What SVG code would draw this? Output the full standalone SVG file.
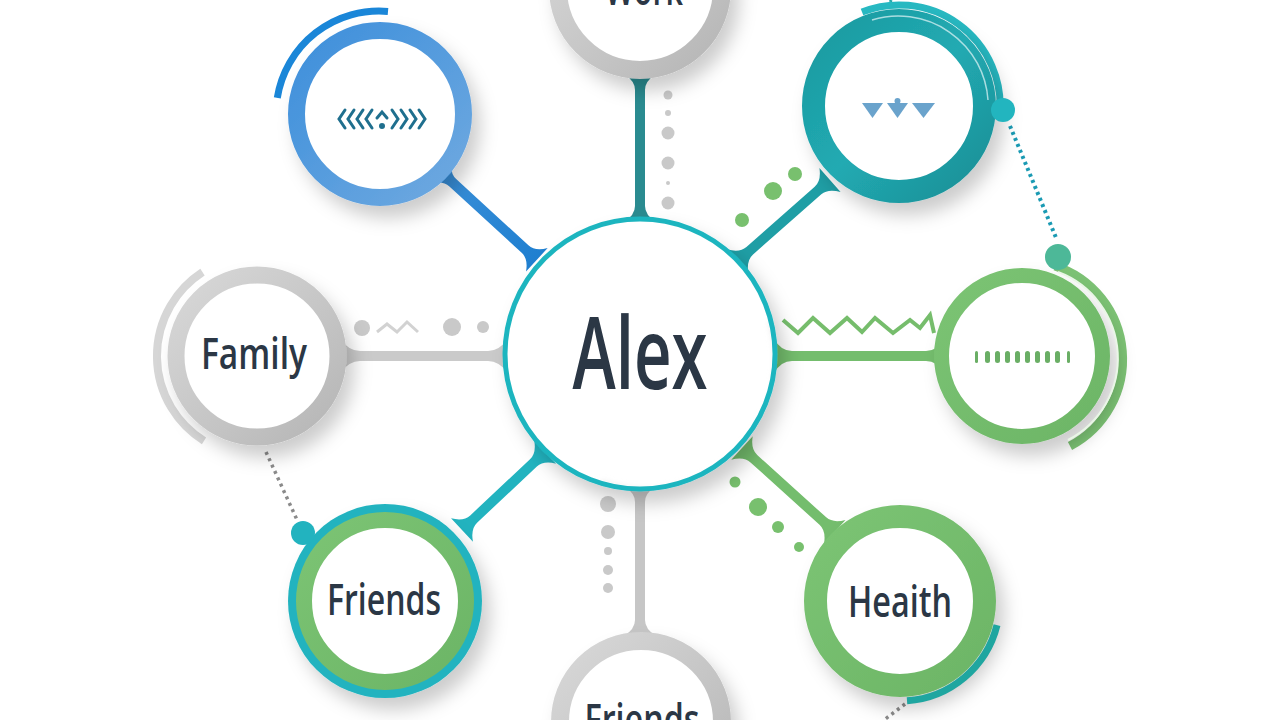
<svg xmlns="http://www.w3.org/2000/svg" width="1280" height="720" viewBox="0 0 1280 720">
<defs>
<filter id="sh" x="-40%" y="-40%" width="180%" height="180%">
<feDropShadow dx="8" dy="12" stdDeviation="9" flood-color="#000" flood-opacity="0.2"/>
</filter>
<filter id="blur" x="-20%" y="-20%" width="140%" height="140%"><feGaussianBlur stdDeviation="3"/></filter>
<clipPath id="cClip"><circle cx="640" cy="354" r="132"/></clipPath>
<linearGradient id="gBlue" x1="0" y1="0" x2="1" y2="1"><stop offset="0" stop-color="#3d8fdb"/><stop offset="1" stop-color="#6fa9e0"/></linearGradient>
<linearGradient id="gTeal" x1="0" y1="0" x2="1" y2="1"><stop offset="0" stop-color="#1c9aa0"/><stop offset="0.5" stop-color="#21aab2"/><stop offset="1" stop-color="#1c8f96"/></linearGradient>
<linearGradient id="gGray" x1="0" y1="0" x2="1" y2="1"><stop offset="0" stop-color="#d8d8d8"/><stop offset="0.6" stop-color="#c4c4c4"/><stop offset="1" stop-color="#b5b5b5"/></linearGradient>
<linearGradient id="gGreen" x1="0" y1="0" x2="1" y2="1"><stop offset="0" stop-color="#7cc474"/><stop offset="1" stop-color="#6cb566"/></linearGradient>
<linearGradient id="gBlueStem" x1="0" y1="0" x2="1" y2="0"><stop offset="0" stop-color="#3a8fd8"/><stop offset="1" stop-color="#1f7fd0"/></linearGradient>
</defs>
<style>
.lbl{font-family:"Open Sans","Liberation Sans",sans-serif;font-weight:600;fill:#2b3745;text-anchor:middle}
</style>
<rect width="1280" height="720" fill="#fff"/>

<g id="connectors">
<path transform="translate(640,74) rotate(90)" fill="#2a8b90" d="M0,-16 Q7,-5 16,-5 L132,-5 Q141,-5 148,-16 L148,16 Q141,5 132,5 L16,5 Q7,5 0,16 Z"/>
<path transform="translate(441,172) rotate(42.5)" fill="url(#gBlueStem)" d="M0,-16 Q7,-5 16,-5 L114,-5 Q123,-5 130,-16 L130,16 Q123,5 114,5 L16,5 Q7,5 0,16 Z"/>
<path transform="translate(830,180) rotate(138.6)" fill="#1f9ea5" d="M0,-16 Q7,-5 16,-5 L107,-5 Q116,-5 123,-16 L123,16 Q116,5 107,5 L16,5 Q7,5 0,16 Z"/>
<path transform="translate(774,356)" fill="#74bd6d" d="M0,-17 Q7,-5 18,-5 L152,-5 Q163,-5 172,-18 L172,18 Q163,5 152,5 L18,5 Q7,5 0,17 Z"/>
<path transform="translate(340,356)" fill="#cacaca" d="M0,-17 Q9,-5 20,-5 L148,-5 Q159,-5 168,-17 L168,17 Q159,5 148,5 L20,5 Q9,5 0,17 Z"/>
<path transform="translate(462,530) rotate(-43.2)" fill="#22b3bf" d="M0,-16 Q7,-5 16,-5 L98,-5 Q107,-5 114,-16 L114,16 Q107,5 98,5 L16,5 Q7,5 0,16 Z"/>
<path transform="translate(742,448) rotate(42.1)" fill="#74bd6d" d="M0,-16 Q7,-5 16,-5 L109,-5 Q118,-5 125,-16 L125,16 Q118,5 109,5 L16,5 Q7,5 0,16 Z"/>
<path transform="translate(640,486) rotate(90)" fill="#c6c6c6" d="M0,-16 Q7,-5 16,-5 L134,-5 Q143,-5 150,-16 L150,16 Q143,5 134,5 L16,5 Q7,5 0,16 Z"/>

<g fill="#c9c9c9">
<circle cx="668" cy="95" r="4.5"/><circle cx="668" cy="113" r="3"/><circle cx="668" cy="133" r="6.5"/><circle cx="668" cy="163" r="6.5"/><circle cx="668" cy="183" r="2"/><circle cx="668" cy="203" r="6.5"/>
<circle cx="608" cy="504" r="8"/><circle cx="608" cy="532" r="7"/><circle cx="608" cy="551" r="4"/><circle cx="608" cy="570" r="5"/><circle cx="608" cy="588" r="5"/>
<circle cx="362" cy="328" r="8"/><circle cx="452" cy="327" r="9"/><circle cx="483" cy="327" r="6"/>
</g>
<polyline points="377,332 387,324 397,332 407,322 418,332" fill="none" stroke="#d2d2d2" stroke-width="3"/>
<g fill="#78c06e">
<circle cx="742" cy="220" r="7"/><circle cx="773" cy="191" r="9"/><circle cx="795" cy="174" r="7"/>
<circle cx="735" cy="482" r="5.5"/><circle cx="758" cy="507" r="9"/><circle cx="778" cy="527" r="6"/><circle cx="799" cy="547" r="5"/>
</g>
<polyline points="783,320 798,333 813,318 830,333 847,318 862,332 875,318 893,333 910,320 920,328 930,315 934,333" fill="none" stroke="#76bd6c" stroke-width="4"/>
<line x1="1010" y1="126" x2="1057" y2="240" stroke="#1a9ab3" stroke-width="4" stroke-dasharray="3 3.5"/>
<line x1="266" y1="452" x2="298" y2="522" stroke="#8a8a8a" stroke-width="3.5" stroke-dasharray="3 4"/>
<line x1="905" y1="704" x2="884" y2="720" stroke="#8a8a8a" stroke-width="3.5" stroke-dasharray="3 4"/>
<line x1="891" y1="0" x2="889" y2="7" stroke="#1fa6a8" stroke-width="3" stroke-dasharray="2 2"/>
</g>

<g id="node-work">
<circle cx="640" cy="-12" r="82" fill="#fff" stroke="url(#gGray)" stroke-width="18" filter="url(#sh)"/>
<text class="lbl" x="644" y="5" font-size="44" textLength="78" lengthAdjust="spacingAndGlyphs">Work</text>
</g>

<g id="node-blue">
<path d="M277.3,97.9 A103,103 0 0 1 388,11.4" fill="none" stroke="#1a86d8" stroke-width="7"/>
<circle cx="380" cy="114" r="83.5" fill="#fff" stroke="url(#gBlue)" stroke-width="17" filter="url(#sh)"/>
<g fill="none" stroke="#1f6f8e" stroke-width="3" stroke-linecap="round">
<polyline points="345,110 339,119 345,128"/><polyline points="354,110 348,119 354,128"/><polyline points="363,110 357,119 363,128"/><polyline points="372,110 366,119 372,128"/>
<polyline points="377,118 382,112 387,118"/><circle cx="382" cy="126" r="1.5" fill="#1f6f8e"/>
<polyline points="392,110 398,119 392,128"/><polyline points="401,110 407,119 401,128"/><polyline points="410,110 416,119 410,128"/><polyline points="419,110 425,119 419,128"/>
</g>
</g>

<g id="node-teal">
<path d="M862,12 A101,101 0 0 1 1000,112" fill="none" stroke="#27b9c2" stroke-width="7"/>
<circle cx="899" cy="106" r="85.5" fill="#fff" stroke="url(#gTeal)" stroke-width="23" filter="url(#sh)"/>
<path d="M872,20 A90,90 0 0 1 988,100" fill="none" stroke="#e6f7f8" stroke-width="1.5" opacity="0.7"/>
<circle cx="1003" cy="110" r="12" fill="#22b5bf"/>
<g fill="#6aa3cc">
<polygon points="862,103 883,103 872.5,118"/><polygon points="887,103 908,103 897.5,118"/><polygon points="912,103 935,103 923.5,118"/>
<circle cx="897.5" cy="101" r="3"/>
</g>
</g>

<g id="node-right">
<path d="M1055,266 A98,98 0 0 1 1070,446" fill="none" stroke="#7cc274" stroke-width="9"/>
<circle cx="1022" cy="356" r="80.5" fill="#fff" stroke="url(#gGreen)" stroke-width="15" filter="url(#sh)"/>
<path d="M1058,272 A92,92 0 0 1 1068,440" fill="none" stroke="#e9f6e6" stroke-width="2"/>
<circle cx="1058" cy="257" r="13" fill="#4db898"/>
<g fill="#6aae65">
<rect x="975" y="351" width="3" height="12" rx="1.5"/>
<rect x="985" y="351" width="5" height="12" rx="2.5"/><rect x="995" y="351" width="5" height="12" rx="2.5"/><rect x="1005" y="351" width="5" height="12" rx="2.5"/><rect x="1015" y="351" width="5" height="12" rx="2.5"/><rect x="1025" y="351" width="5" height="12" rx="2.5"/><rect x="1035" y="351" width="5" height="12" rx="2.5"/><rect x="1045" y="351" width="5" height="12" rx="2.5"/><rect x="1055" y="351" width="5" height="12" rx="2.5"/>
<rect x="1067" y="351" width="3" height="12" rx="1.5"/>
</g>
</g>

<g id="node-family">
<path d="M204,440.8 A100,100 0 0 1 202.5,272.1" fill="none" stroke="#d6d6d6" stroke-width="8"/>
<circle cx="257" cy="356" r="81" fill="#fff" stroke="url(#gGray)" stroke-width="17" filter="url(#sh)"/>
<text class="lbl" x="254" y="369" font-size="44" textLength="106" lengthAdjust="spacingAndGlyphs">Family</text>
</g>

<g id="node-friends-left">
<circle cx="385" cy="601" r="97" fill="#22b3bf" filter="url(#sh)"/>
<circle cx="303" cy="533" r="12" fill="#22b3bf"/>
<circle cx="385" cy="601" r="81" fill="#fff" stroke="url(#gGreen)" stroke-width="16"/>
<text class="lbl" x="384" y="615" font-size="44" textLength="114" lengthAdjust="spacingAndGlyphs">Friends</text>
</g>

<g id="node-health">
<circle cx="900" cy="601" r="84.5" fill="#fff" stroke="url(#gGreen)" stroke-width="23" filter="url(#sh)"/>
<path d="M997,625.2 A100,100 0 0 1 907,700.8" fill="none" stroke="#1fa6a0" stroke-width="7"/>
<text class="lbl" x="900" y="617" font-size="43" textLength="104" lengthAdjust="spacingAndGlyphs">Heaith</text>
</g>

<g id="node-friends-bottom">
<circle cx="641" cy="722" r="81" fill="#fff" stroke="url(#gGray)" stroke-width="18" filter="url(#sh)"/>
<text class="lbl" x="642" y="735" font-size="44" textLength="115" lengthAdjust="spacingAndGlyphs">Friends</text>
</g>

<g id="node-alex">
<circle cx="640" cy="354" r="135" fill="#fff" stroke="#1fb5bf" stroke-width="5" filter="url(#sh)"/>
<g clip-path="url(#cClip)">
<path d="M774,320 A134,134 0 0 1 600,486" fill="none" stroke="#e2e2e2" stroke-width="10" filter="url(#blur)"/>
</g>
<text class="lbl" x="640" y="389" font-size="100" textLength="135" lengthAdjust="spacingAndGlyphs">Alex</text>
</g>
</svg>
